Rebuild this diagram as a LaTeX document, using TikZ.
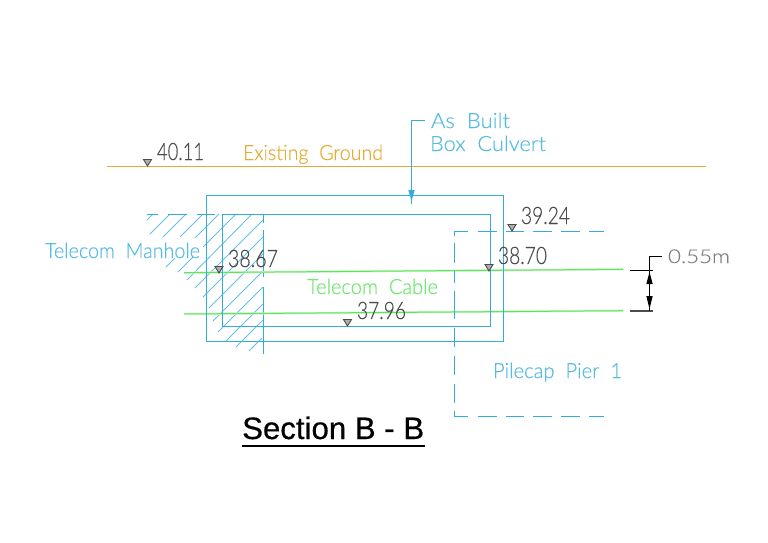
\documentclass[tikz,border=0pt]{standalone}
\usepackage{fontspec}
\usepackage{graphicx}
\setmainfont{Liberation Sans}[FakeBold=0.5]
\newfontfamily\cadfont{Lato Light}[FakeBold=0.25]
\definecolor{cadcyan}{RGB}{50,172,216}
\definecolor{cadtxt}{RGB}{85,188,226}
\definecolor{cadgreen}{RGB}{95,228,95}
\definecolor{cadglow}{RGB}{205,247,205}
\definecolor{cadgrn}{RGB}{110,232,110}
\definecolor{cadorange}{RGB}{228,172,50}
\definecolor{cadgray}{RGB}{75,75,75}
\definecolor{triangray}{RGB}{175,175,175}
\tikzset{
  cadlabel/.style={anchor=base west,inner sep=0pt,outer sep=0pt,font=\cadfont\fontsize{21}{21}\selectfont},
  numlabel/.style={cadlabel,text=cadgray,font=\cadfont\fontsize{24}{24}\selectfont},
  boxline/.style={draw=cadcyan,line width=1.55pt},
  hatchline/.style={draw=cadcyan!75,line width=0.85pt},
  cableglow/.style={draw=cadglow,line width=2.2pt},
  cableline/.style={draw=cadgreen,line width=1pt},
  dimline/.style={draw=black,line width=1.1pt},
  levelmark/.style={draw=cadgray,fill=triangray,line width=0.9pt,line join=miter},
}
\newcommand{\fitw}[2]{\resizebox{#1pt}{\height}{#2}}
\newcommand{\lvl}[2]{\draw[levelmark] (#1,#2) -- ++(-4,-6.5) -- ++(8,0) -- cycle;}
\begin{document}
\begin{tikzpicture}[x=1pt,y=-1pt]
\useasboundingbox (0,0) rectangle (768,543);
\fill[white] (0,0) rectangle (768,543);

% ground
\coordinate (g1) at (107,166.5); \coordinate (g2) at (706,166.5);
\draw[draw=cadorange,line width=1.3pt] (g1) -- (g2);

% hatch
\foreach \a/\b/\c/\d in {147/220/153/214,150/234/170/214,163/237/186/214,180/237/203/214,195/238/219/214,
  203/247/236/214,166/267/175/258,178/272/193/257,187/280/252/214,195/288/263/220,203/297/263/237,209/308/263/254,
  213/321/263/271,218/332/263/287,226/341/263/304,236/347/263/320,249/351/262/338}
  {\draw[hatchline] (\a,\b) -- (\c,\d);}
\foreach \a/\b in {147/158,168/187,197/215,223/242,252/263}
  {\draw[boxline] (\a,214.5) -- (\b,214.5);}
\foreach \a/\b in {214/223,230/277,287/354}
  {\draw[boxline] (263.5,\a) -- (263.5,\b);}

% cables
\coordinate (c1) at (184,272.7); \coordinate (c2) at (623,269.3);
\coordinate (c3) at (184,314); \coordinate (c4) at (623,310.7);
\draw[cableglow] (c1) -- (c2);
\draw[cableglow] (c3) -- (c4);
\draw[cableline] (c1) -- (c2);
\draw[cableline] (c3) -- (c4);

% culvert
\draw[boxline] (206.5,195.5) rectangle (503.5,341.5);
\draw[boxline] (222.5,214.5) rectangle (490.5,326.5);

% pilecap dashed
\foreach \a/\b in {454/468,478/497,506/524,533/552,561/580,589/604}
  {\draw[boxline] (\a,231.5) -- (\b,231.5); \draw[boxline] (\a,416.5) -- (\b,416.5);}
\foreach \a/\b in {231/236,243/263,271/283,291/319,328/347,356/375,384/403,411/416.5}
  {\draw[boxline] (454.5,\a) -- (454.5,\b);}

% leader to culvert
\coordinate (l0) at (425,120.5); \coordinate (l1) at (411.5,120.5); \coordinate (l2) at (411.5,204);
\draw[boxline] (l0) -- (l1) -- (l2);
\fill[cadcyan] (411.5,201) -- (408.3,190) -- (414.7,190) -- cycle;

% dimension
\coordinate (d1) at (630,270.5); \coordinate (d2) at (653,270.5);
\coordinate (d3) at (630,311); \coordinate (d4) at (653,311);
\coordinate (d5) at (649.5,311); \coordinate (d6) at (649.5,256.5); \coordinate (d7) at (662,256.5);
\draw[dimline] (d1) -- (d2);
\draw[dimline,line width=1.5pt,draw=black!70] (d3) -- (d4);
\draw[dimline] (d5) -- (d6) -- (d7);
\fill[black] (649.5,272) -- (652.7,284) -- (646.3,284) -- cycle;
\fill[black] (649.5,309) -- (652.7,296) -- (646.3,296) -- cycle;

% level marks
\lvl{147.5}{166}
\lvl{219}{273}
\lvl{512}{231}
\lvl{489}{271}
\lvl{347.5}{326}

% labels
\node[numlabel] (n1) at (157,160) {\fitw{47}{40.11}};
\node[numlabel] (n2) at (228,267) {\fitw{50}{38.67}};
\node[numlabel] (n3) at (521,224) {\fitw{49}{39.24}};
\node[numlabel] (n4) at (498,264) {\fitw{49}{38.70}};
\node[numlabel] (n5) at (357,319) {\fitw{49}{37.96}};
\node[numlabel,text=cadgray!70,font=\cadfont\fontsize{19}{19}\selectfont] (n6) at (668,263) {\fitw{62}{0.55m}};
\node[cadlabel,text=cadorange] (t1) at (243,160) {\fitw{140}{Existing\ \ Ground}};
\node[cadlabel,text=cadtxt] (t2) at (431,128) {\fitw{79}{As\ \ Built}};
\node[cadlabel,text=cadtxt] (t3) at (430,151) {\fitw{116}{Box\ \ Culvert}};
\node[cadlabel,text=cadtxt] (t4) at (45,258) {\fitw{155}{Telecom\ \ Manhole}};
\node[cadlabel,text=cadgrn] (t5) at (307,294) {\fitw{131}{Telecom\ \ Cable}};
\node[cadlabel,text=cadtxt] (t6) at (493,378) {\fitw{129}{Pilecap\ \ Pier\ \ 1}};
\node[anchor=base west,inner sep=0pt,font=\fontsize{31}{31}\selectfont] (title) at (242,439) {\fitw{182}{Section B - B}};
\draw[line width=1.1pt] (242,446) -- (424.5,446);
\end{tikzpicture}
\end{document}
